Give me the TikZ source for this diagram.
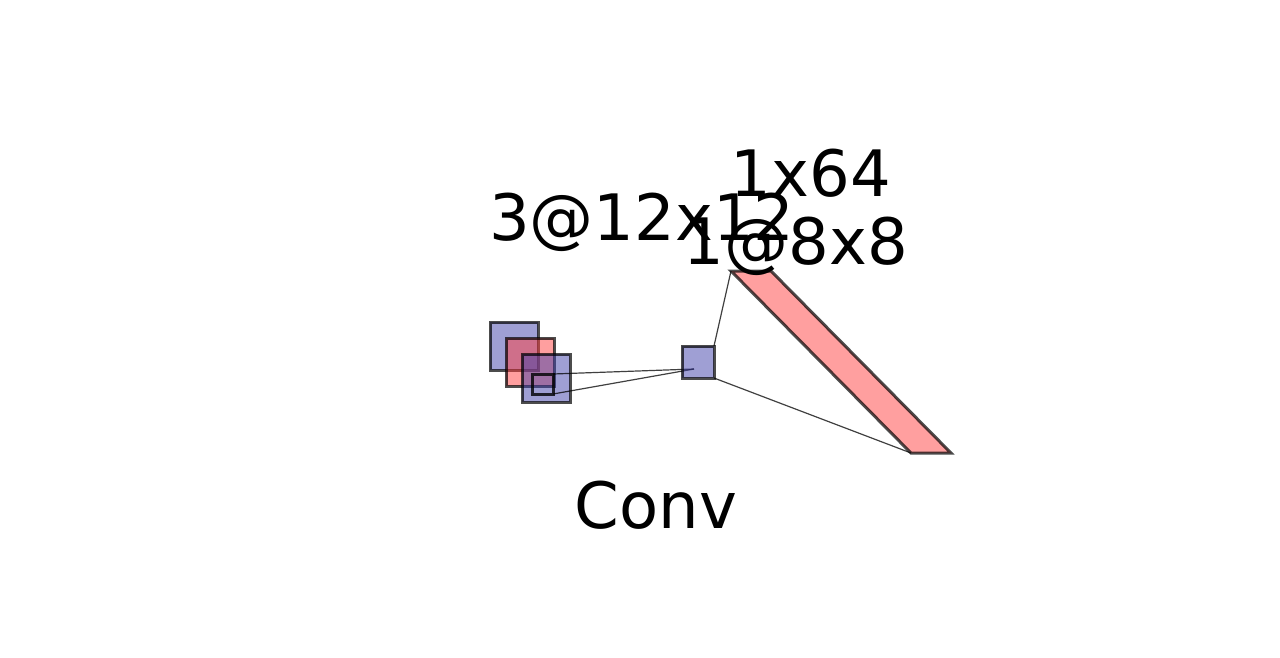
\documentclass[tikz,border=0pt]{standalone}
\usepackage{fontspec}
\setmainfont{DejaVu Sans}
\begin{document}
\begin{tikzpicture}[x=1pt,y=-1pt,
 bl/.style={fill={rgb,255:red,64;green,64;blue,170},fill opacity=0.5,draw=black,draw opacity=0.7,line width=3pt},
 rd/.style={fill={rgb,255:red,255;green,64;blue,64},fill opacity=0.5,draw=black,draw opacity=0.7,line width=3pt},
 ln/.style={draw=black,draw opacity=0.75,line width=1.2pt},
 lab/.style={font=\fontsize{64}{64}\selectfont,inner sep=0pt}]
\useasboundingbox (0,0) rectangle (1280,657);
\draw[bl] (490,322) rectangle (538,370);
\draw[rd] (506,338) rectangle (554,386);
\draw[bl] (522,354) rectangle (570,402);
\draw[line width=3pt,draw opacity=0.8] (532,374) rectangle (553,394);
\coordinate (s1) at (553,374);
\coordinate (s2) at (553,394);
\coordinate (p) at (694,369);
\draw[ln] (s1) -- (p);
\draw[ln] (s2) -- (p);
\draw[bl] (682,346) rectangle (714,378);
\coordinate (q1) at (714,346);
\coordinate (q2) at (714,378);
\draw[rd] (731,271) -- (771,271) -- (951,453) -- (911,453) -- cycle;
\coordinate (r1) at (731,271);
\coordinate (r2) at (911,453);
\draw[ln] (q1) -- (r1);
\draw[ln] (q2) -- (r2);
\node[lab] (t1) at (811,173) {1x64};
\node[lab] (t2) at (642,222) {3@12x12};
\node[lab] (t3) at (796,246) {1@8x8};
\node[lab] (t4) at (656,505) {Conv};
\end{tikzpicture}
\end{document}
